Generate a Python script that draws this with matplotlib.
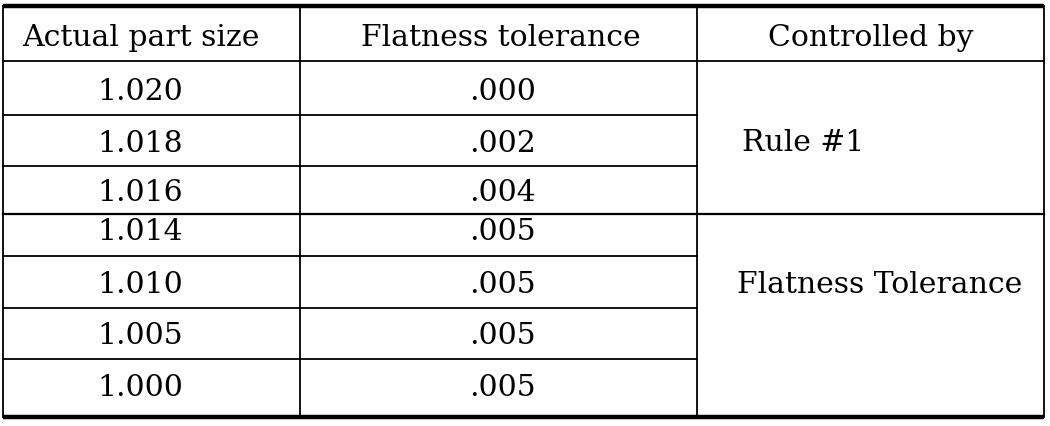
import matplotlib.pyplot as plt

# table contents
headers = ["Actual part size", "Flatness tolerance", "Controlled by"]
part_size = ["1.020", "1.018", "1.016", "1.014", "1.010", "1.005", "1.000"]
flatness = [".000", ".002", ".004", ".005", ".005", ".005", ".005"]
controlled = ["Rule #1", "Flatness Tolerance"]

W, H = 1050, 426
fig = plt.figure(figsize=(W / 100, H / 100), dpi=100)
ax = fig.add_axes([0, 0, 1, 1])
ax.set_xlim(0, W)
ax.set_ylim(H, 0)
ax.axis("off")

x0, x1, x2, x3 = 3, 300, 697, 1044
row_lines = [61, 115, 166, 214, 256, 308, 359]
top, bottom = 6, 417
text_y = [92, 144, 193, 232, 285, 336, 388]

# frame
ax.plot([x0, x3], [top, top], color="black", lw=3.2, solid_capstyle="butt")
ax.plot([x0, x3], [bottom, bottom], color="black", lw=3.2, solid_capstyle="butt")
for x in (x0, x1, x2, x3):
    ax.plot([x, x], [top, bottom], color="black", lw=1.3)
ax.plot([x0, x3], [row_lines[0]] * 2, color="black", lw=1.3)
for i, y in enumerate(row_lines[1:]):
    xe = x3 if y == 214 else x2
    ax.plot([x0, xe], [y, y], color="black", lw=1.6 if y == 214 else 1.3)

fs = 21.5
font = "DejaVu Serif"
hy = 38
ax.text((x0 + x1) / 2 - 11, hy, headers[0], ha="center", va="center", fontsize=fs, family=font)
ax.text((x1 + x2) / 2 + 2, hy, headers[1], ha="center", va="center", fontsize=fs, family=font)
ax.text((x2 + x3) / 2, hy, headers[2], ha="center", va="center", fontsize=fs, family=font)

for y, a, b in zip(text_y, part_size, flatness):
    ax.text((x0 + x1) / 2 - 11, y, a, ha="center", va="center", fontsize=fs, family=font)
    ax.text((x1 + x2) / 2 + 4, y, b, ha="center", va="center", fontsize=fs, family=font)

ax.text(742, 143, controlled[0], ha="left", va="center", fontsize=fs, family=font)
ax.text((x2 + x3) / 2 + 9, 285, controlled[1], ha="center", va="center", fontsize=fs, family=font)

fig.savefig("out.png", dpi=100)
